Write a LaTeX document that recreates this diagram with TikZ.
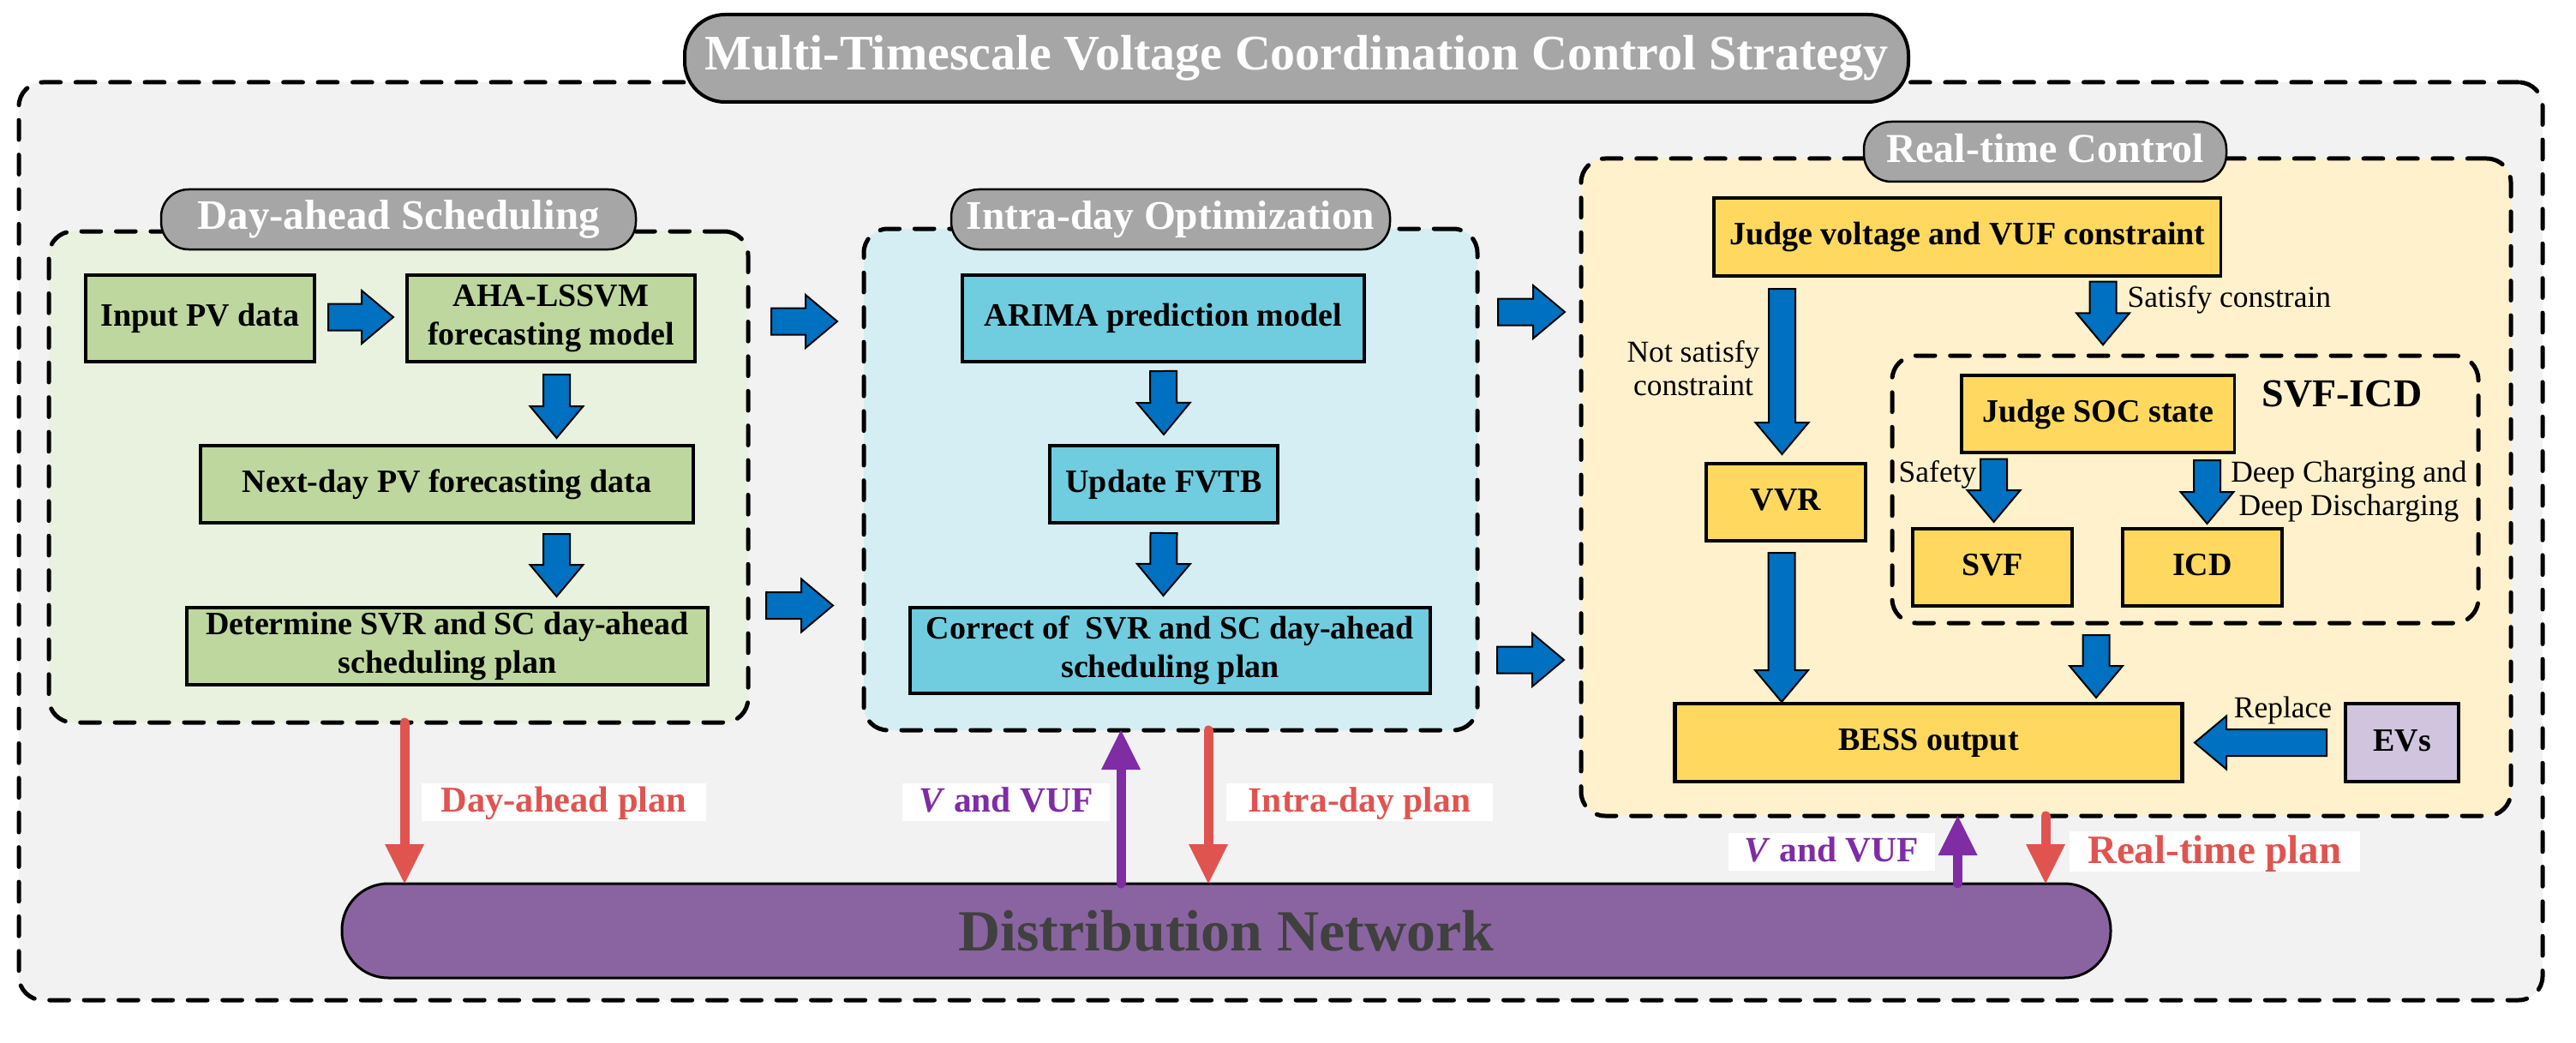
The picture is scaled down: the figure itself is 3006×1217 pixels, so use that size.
\documentclass[tikz,border=0pt]{standalone}
\usepackage{fontspec}
\setmainfont{Liberation Serif}
\usetikzlibrary{calc,arrows.meta}
\definecolor{outerc}{HTML}{F2F2F2}
\definecolor{pillc}{HTML}{A6A6A6}
\definecolor{greenz}{HTML}{E9F1DF}
\definecolor{greenb}{HTML}{BED79E}
\definecolor{cyanz}{HTML}{D5EEF3}
\definecolor{cyanb}{HTML}{70CCDF}
\definecolor{yelz}{HTML}{FFF1CC}
\definecolor{yelb}{HTML}{FFD95F}
\definecolor{evc}{HTML}{D0C4DE}
\definecolor{netc}{HTML}{8A64A0}
\definecolor{bluec}{HTML}{0070C0}
\definecolor{redc}{HTML}{E05450}
\definecolor{purc}{HTML}{7F2CA5}
\definecolor{nettxt}{HTML}{404040}
\newcommand{\fs}[2]{\fontsize{#1}{#2}\selectfont}
\newcommand{\bx}[7]{\node[#2,minimum width={(#5)-(#3)},minimum height={(#6)-(#4)}] (#1) at ({((#3)+(#5))/2},{((#4)+(#6))/2}) {#7};}
\newcommand{\blockarrow}[2]{%
  \coordinate (ba-a) at #1;\coordinate (ba-b) at #2;
  \coordinate (ba-h) at ($(ba-b)!37pt!(ba-a)$);
  \draw[blockc] ($(ba-a)!15.5pt!90:(ba-b)$) -- ($(ba-h)!15.5pt!-90:(ba-a)$) -- ($(ba-h)!31pt!-90:(ba-a)$) -- (ba-b)
    -- ($(ba-h)!31pt!90:(ba-a)$) -- ($(ba-h)!15.5pt!90:(ba-a)$) -- ($(ba-a)!15.5pt!-90:(ba-b)$) -- cycle;}
\tikzset{
  every node/.style={inner sep=0pt,outer sep=0pt,align=center},
  strut/.style 2 args={execute at begin node={\rule[-#1pt]{0pt}{#2pt}}},
  zone/.style={draw=black,line width=5pt,line cap=round,dash pattern=on 22.7pt off 17.7pt,rounded corners=28pt},
  pill/.style={draw=black,fill=pillc,line width=2.5pt,rounded corners=32pt,text=white,font=\bfseries\fs{49}{54},strut={10}{44}},
  box/.style={draw=black,line width=3.5pt,font=\bfseries\fs{38}{45},strut={8}{35}},
  gbox/.style={box,fill=greenb},
  cbox/.style={box,fill=cyanb},
  ybox/.style={box,fill=yelb},
  small/.style={font=\fs{35.5}{39}},
  tag/.style={fill=white,font=\bfseries\fs{42.5}{48},strut={10}{44}},
  blockc/.style={draw=black,fill=bluec,line width=2pt,miter limit=10},
  redarrow/.style={draw=redc,line width=11pt,line cap=round,-{Triangle[length=46pt,width=46pt,line width=0pt]}},
  purarrow/.style={draw=purc,line width=11pt,line cap=round,-{Triangle[length=46pt,width=46pt,line width=0pt]}},
}
\begin{document}
\begin{tikzpicture}[x=1pt,y=-1pt]
\useasboundingbox[fill=white] (0,0) rectangle (3006,1217);
% outer frame and title
\bx{outer}{zone,fill=outerc}{22}{96}{2967}{1167}{}
\bx{title}{pill,line width=4pt,rounded corners=47pt,font=\bfseries\fs{58}{60},strut={12}{52}}{799}{17}{2227}{119}{Multi-Timescale Voltage Coordination Control Strategy}
% zones
\bx{day}{zone,fill=greenz}{57}{270}{873}{843}{}
\bx{intra}{zone,fill=cyanz}{1008}{267}{1724}{852}{}
\bx{real}{zone,fill=yelz}{1845}{185}{2930}{952}{}
\bx{svfzone}{zone}{2208}{415}{2892}{727}{}
\bx{dayp}{pill}{188}{221}{742}{291}{Day-ahead Scheduling}
\bx{intrap}{pill,font=\bfseries\fs{47.5}{54}}{1110}{221}{1622}{291}{Intra-day Optimization}
\bx{realp}{pill,font=\bfseries\fs{48}{54},strut={10}{46}}{2175}{142}{2598}{212}{Real-time Control}
% day-ahead
\bx{input}{gbox}{100}{321}{367}{422}{Input PV data}
\bx{aha}{gbox}{475}{321}{811}{422}{AHA-LSSVM\\forecasting model}
\bx{next}{gbox}{234}{520}{809}{610}{Next-day PV forecasting data}
\bx{det}{gbox}{218}{709}{826}{799}{Determine SVR and SC day-ahead\\scheduling plan}
% intra-day
\bx{arima}{cbox}{1123}{321}{1592}{422}{ARIMA prediction model}
\bx{fvtb}{cbox}{1225}{520}{1491}{610}{Update FVTB}
\bx{correct}{cbox}{1062}{709}{1669}{809}{Correct of\ \ SVR and SC day-ahead\\scheduling plan}
% real-time
\bx{judgev}{ybox}{2000}{231}{2591.5}{322}{Judge voltage and VUF constraint}
\bx{vvr}{ybox}{1991}{541}{2177}{631}{VVR}
\bx{soc}{ybox}{2289}{438}{2607.6}{528}{Judge SOC state}
\bx{svf}{ybox}{2232}{617}{2418}{707}{SVF}
\bx{icd}{ybox}{2477}{617}{2663}{707}{ICD}
\bx{bess}{ybox,line width=4.5pt}{1954.6}{821}{2546.7}{912}{BESS output}
\bx{evs}{box,fill=evc,line width=4.5pt}{2737}{821}{2869}{912}{EVs}
\node[font=\bfseries\fs{46}{50}] (svficd) at (2733,460) {SVF-ICD};
% network
\bx{net}{draw=black,fill=netc,line width=3pt,rounded corners=54pt,text=nettxt,font=\bfseries\fs{68}{72}}{399}{1031}{2463}{1141}{Distribution Network}
% small labels
\node[small,anchor=west] (lsat) at (2482.5,350) {Satisfy constrain};
\node[small] (lnot) at (1976,430) {Not satisfy\\constraint};
\node[small] (lsafe) at (2261,554) {Safety};
\node[small] (ldeep) at (2741,574) {Deep Charging and\\Deep Discharging};
\node[small] (lrep) at (2664,829) {Replace};
% tags
\bx{tday}{tag,text=redc}{492}{916}{824}{955}{Day-ahead plan}
\bx{tintra}{tag,text=redc,font=\bfseries\fs{41.5}{48}}{1431}{916}{1742}{955}{Intra-day plan}
\bx{treal}{tag,text=redc,font=\bfseries\fs{47}{48},strut={10}{47}}{2415}{974}{2753.6}{1013}{Real-time plan}
\bx{tv}{tag,text=purc,font=\bfseries\fs{41.5}{44}}{1053}{916}{1295}{955}{\textit{V} and VUF}
\bx{tvb}{tag,text=purc,font=\bfseries\fs{41.5}{44}}{2017}{974}{2257.6}{1013}{\textit{V} and VUF}
% block arrows
\blockarrow{([xshift=16pt,yshift=1.5pt]input.east)}{([xshift=-16pt,yshift=1.5pt]aha.west)}
\blockarrow{([xshift=6.5pt,yshift=-15pt]aha.south)}{([xshift=128pt,yshift=9pt]next.north)}
\blockarrow{([xshift=128pt,yshift=-13pt]next.south)}{([xshift=127.5pt,yshift=13pt]det.north)}
\blockarrow{([xshift=27pt,yshift=181.5pt]day.east)}{([xshift=-31pt,yshift=184.5pt]intra.west)}
\blockarrow{([xshift=21pt,yshift=-150pt]day.east)}{([xshift=-36pt,yshift=-147pt]intra.west)}
\blockarrow{([yshift=-11pt]arima.south)}{([yshift=13pt]fvtb.north)}
\blockarrow{([yshift=-12pt]fvtb.south)}{([xshift=-8pt,yshift=14pt]correct.north)}
\blockarrow{([xshift=24pt,yshift=195.5pt]intra.east)}{([xshift=-19pt,yshift=204.5pt]real.west)}
\blockarrow{([xshift=23pt,yshift=-210.5pt]intra.east)}{([xshift=-20pt,yshift=-201.5pt]real.west)}
\blockarrow{([xshift=-216.25pt,yshift=-15pt]judgev.south)}{([xshift=-4.5pt,yshift=11pt]vvr.north)}
\blockarrow{([xshift=158.25pt,yshift=-6.5pt]judgev.south)}{([xshift=-96pt,yshift=12.7pt]svfzone.north)}
\blockarrow{([xshift=-121.7pt,yshift=-7.6pt]soc.south)}{([xshift=1.6pt,yshift=8pt]svf.north)}
\blockarrow{([xshift=127.2pt,yshift=-9pt]soc.south)}{([xshift=5.5pt,yshift=6pt]icd.north)}
\blockarrow{([xshift=-5pt,yshift=-14pt]vvr.south)}{([xshift=-171.65pt,yshift=2pt]bess.north)}
\blockarrow{([xshift=-104pt,yshift=-14pt]svfzone.south)}{([xshift=195.35pt,yshift=7pt]bess.north)}
\blockarrow{([xshift=-22pt]evs.west)}{([xshift=14.3pt]bess.east)}
% feedback arrows
\draw[redarrow] ([xshift=7pt]day.south) -- ([xshift=-959pt]net.north);
\draw[redarrow] ([xshift=44pt]intra.south) -- ([xshift=-21pt]net.north);
\draw[redarrow] ([xshift=-0.5pt]real.south) -- ([xshift=956pt]net.north);
\draw[purarrow] ([xshift=-123pt]net.north) -- ([xshift=-58pt]intra.south);
\draw[purarrow] ([xshift=853.5pt]net.north) -- ([xshift=-103pt]real.south);
\end{tikzpicture}
\end{document}
